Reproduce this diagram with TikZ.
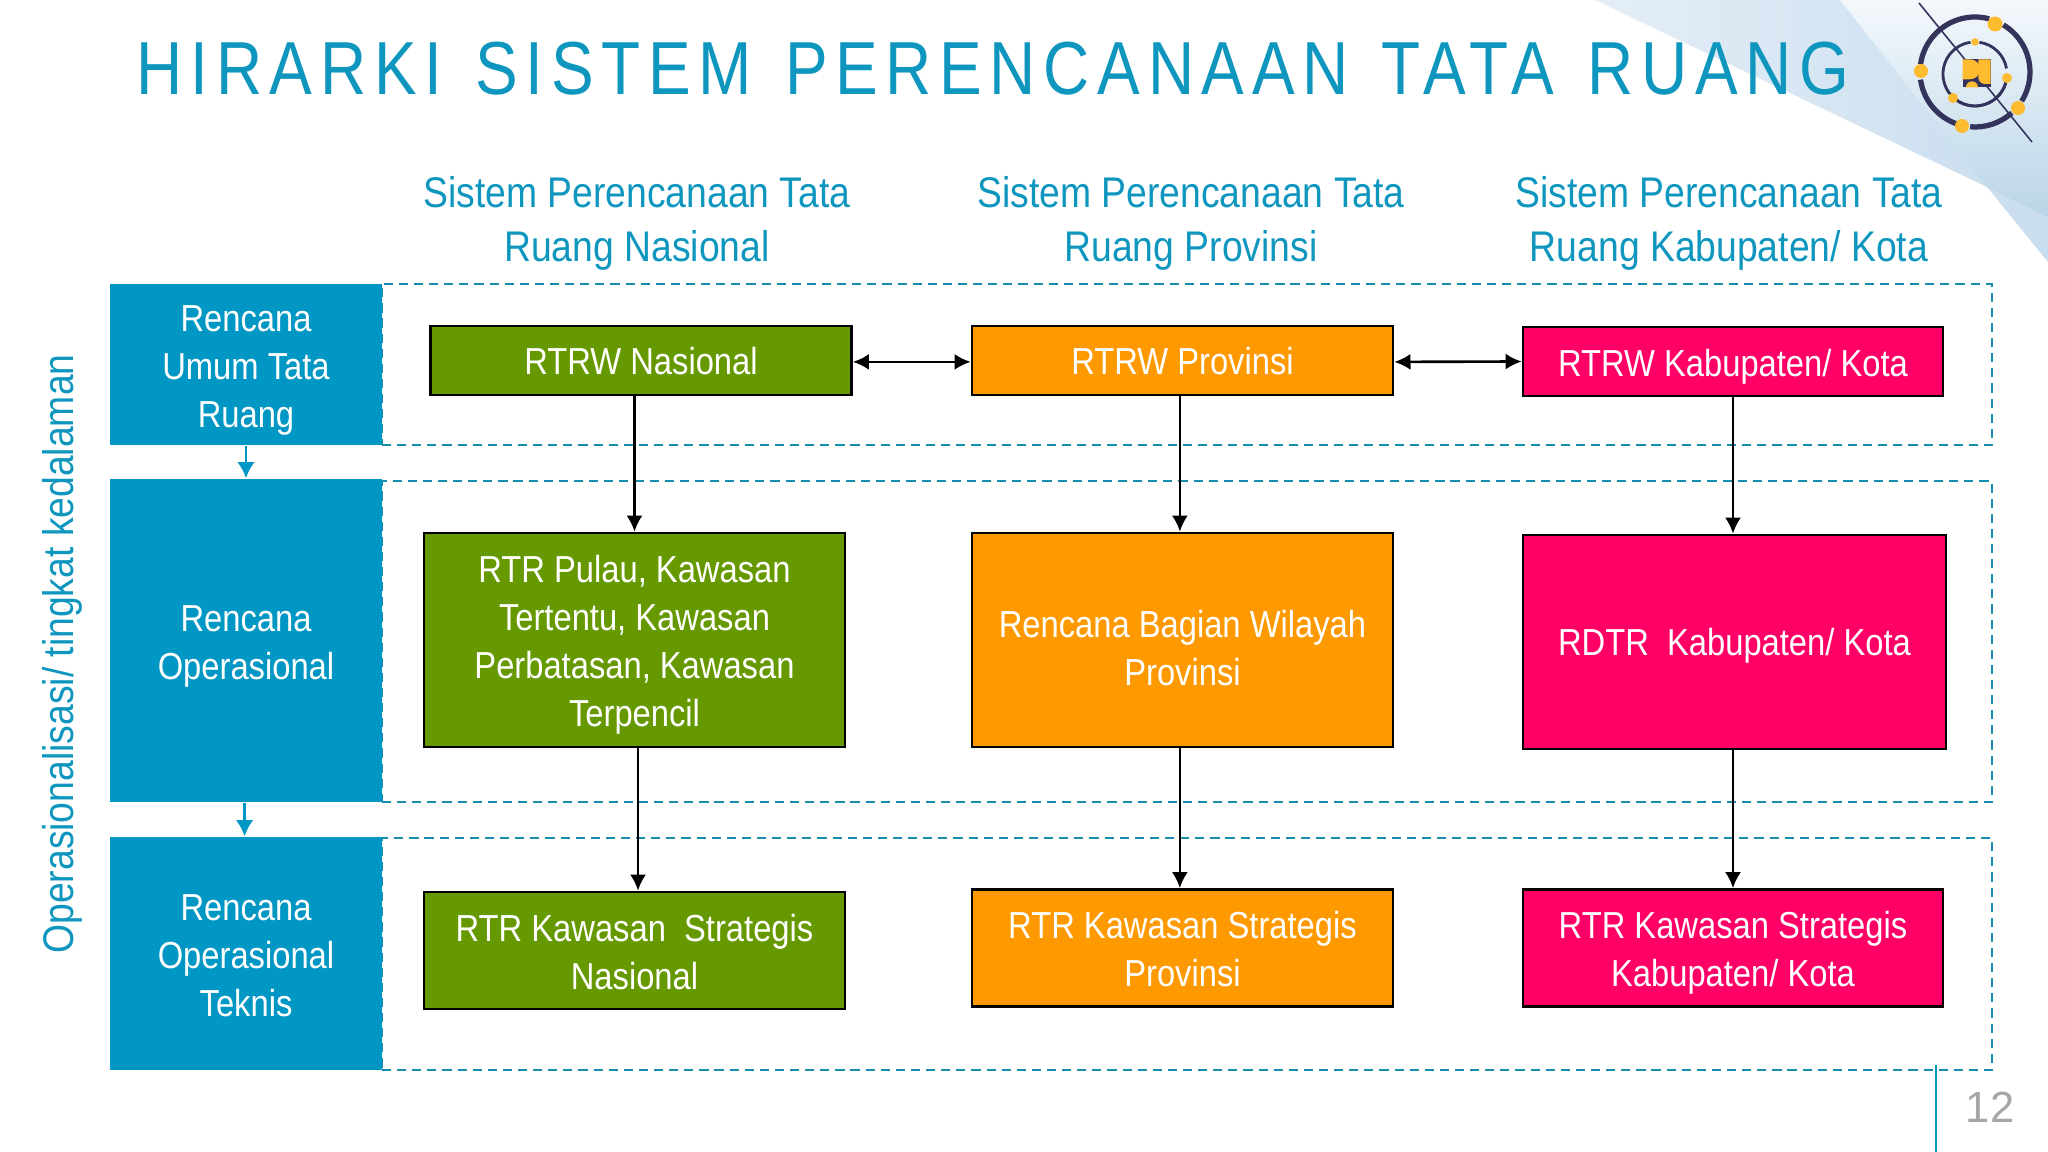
\documentclass[tikz,border=0pt]{standalone}
\usepackage{fontspec}
\setmainfont{Liberation Sans}
\newfontfamily\narrowfont[FakeStretch=0.87]{Liberation Sans}
\newfontfamily\titlefont[FakeStretch=0.85,LetterSpace=10.25,WordSpace=1.3]{Liberation Sans}
\usetikzlibrary{arrows.meta,shadings}
\definecolor{birupu}{HTML}{0097C4}
\definecolor{judul}{HTML}{0E96BE}
\definecolor{hijau}{HTML}{669900}
\definecolor{oranye}{HTML}{FF9900}
\definecolor{merah}{HTML}{FF0066}
\definecolor{navy}{HTML}{33335C}
\definecolor{kuning}{HTML}{FDBB30}
\definecolor{latarmuda}{HTML}{E4EEF7}
\definecolor{latartengah}{HTML}{C8DDEE}
\definecolor{latartua}{HTML}{BAD5E8}
\newcommand{\turun}[1]{\rule{0pt}{#1pt}}
\tikzset{
    kotak/.style={draw=black,line width=0.75pt,inner sep=0pt,align=center,text=white,
        font=\narrowfont\fontsize{10.7}{13.66}\selectfont},
    tingkat/.style={fill=birupu,inner sep=0pt,align=center,text=white,minimum width=2.72cm,
        font=\narrowfont\fontsize{10.7}{13.66}\selectfont},
    baris/.style={draw=birupu!85!black!90,line width=0.6pt,dash pattern=on 2.6pt off 1.7pt,
        inner sep=0pt,minimum width=16.10cm},
    kepala/.style={align=center,text=judul,font=\narrowfont\fontsize{12.2}{15.6}\selectfont},
    panah/.style={-{Latex[length=4.6pt,width=4.6pt]},line width=0.75pt,black},
    panahdua/.style={{Latex[length=4.6pt,width=4.6pt]}-{Latex[length=4.6pt,width=4.6pt]},line width=0.75pt,black},
    panahbiru/.style={-{Latex[length=4.6pt,width=5pt]},line width=0.8pt,birupu}
}
\begin{document}
\begin{tikzpicture}
    \useasboundingbox (0,0) rectangle (20.48,-11.52);
    % latar sudut kanan atas
    \shade[left color=latarmuda,right color=latartengah]
        (15.95,0) -- (19.87,-1.87) -- (20.48,-2.62) -- (20.48,0) -- cycle;
    \shade[top color=latarmuda!40,bottom color=latartua]
        (18.40,0) -- (19.87,-1.87) -- (20.48,-2.17) -- (20.48,0) -- cycle;

    \node[anchor=west,inner sep=0pt,text=judul,font=\titlefont\fontsize{21.4}{26}\selectfont] (judulutama) at (1.36,-0.69)
        {HIRARKI SISTEM PERENCANAAN TATA RUANG};

    % logo
    \draw[navy,line width=0.45pt] (19.19,-0.03) -- (20.32,-1.42);
    \foreach \a/\b in {75/172,188/252,-95/-48,-32/59}
        \draw[navy,line width=1.5pt] (19.75,-0.72) ++(\a:0.55) arc (\a:\b:0.55);
    \foreach \a/\b in {98/345,-125/-15,10/82}
        \draw[navy,line width=0.8pt] (19.75,-0.74) ++(\a:0.32) arc (\a:\b:0.32);
    \fill[kuning] (19.95,-0.24) circle (0.075) (19.21,-0.71) circle (0.07) (20.18,-1.08) circle (0.07) (19.62,-1.26) circle (0.07);
    \fill[kuning] (19.75,-0.42) circle (0.038) (20.07,-0.78) circle (0.05) (19.53,-0.98) circle (0.05);
    \fill[navy] (19.627,-0.593) rectangle (19.907,-0.873);
    \fill[kuning] (19.627,-0.593) -- (19.70,-0.593) arc (90:-90:0.10 and 0.10) -- (19.627,-0.793) -- cycle;
    \fill[kuning] (19.783,-0.593) -- (19.907,-0.593) -- (19.907,-0.84) -- (19.85,-0.84) arc (270:180:0.067) -- cycle;
    \fill[kuning] (19.66,-0.873) arc (180:0:0.06) -- cycle;

    % baris putus-putus
    \node[baris,minimum height=1.61cm] (baris1) at (11.87,-3.645) {};
    \node[baris,minimum height=3.21cm] (baris2) at (11.87,-6.415) {};
    \node[baris,minimum height=2.32cm] (baris3) at (11.87,-9.54) {};

    % tingkat rencana
    \node[tingkat,minimum height=1.61cm] (umum) at (2.46,-3.645) {\turun{11}Rencana\\Umum Tata\\Ruang};
    \node[tingkat,minimum height=3.23cm] (operasional) at (2.46,-6.405) {\turun{10.7}Rencana\\Operasional};
    \node[tingkat,minimum height=2.33cm] (teknis) at (2.46,-9.535) {\turun{8.5}Rencana\\Operasional\\Teknis};
    \draw[panahbiru] (umum) -- (operasional);
    \draw[panahbiru] ([xshift=-0.4pt]operasional.south) -- ([xshift=-0.4pt]teknis.north);

    \node[rotate=90,text=judul,font=\narrowfont\fontsize{12.2}{15.6}\selectfont] (kedalaman) at (0.62,-6.54)
        {Operasionalisasi/ tingkat kedalaman};

    % kepala kolom
    \node[kepala] (kepalanas) at (6.37,-2.235) {Sistem Perencanaan Tata\\Ruang Nasional};
    \node[kepala] (kepalaprov) at (11.91,-2.235) {Sistem Perencanaan Tata\\Ruang Provinsi};
    \node[kepala] (kepalakab) at (17.29,-2.235) {Sistem Perencanaan Tata\\Ruang Kabupaten/ Kota};

    % kolom nasional
    \node[kotak,fill=hijau,minimum width=4.21cm,minimum height=0.69cm] (rtrwnas) at (6.41,-3.605) {\turun{7.9}RTRW Nasional};
    \node[kotak,fill=hijau,minimum width=4.21cm,minimum height=2.14cm] (rtrpulau) at (6.345,-6.40)
        {\turun{10.7}RTR Pulau, Kawasan\\Tertentu, Kawasan\\Perbatasan, Kawasan\\Terpencil};
    \node[kotak,fill=hijau,minimum width=4.21cm,minimum height=1.17cm] (ksnas) at (6.345,-9.505)
        {\turun{8.4}RTR Kawasan\ \ Strategis\\Nasional};

    % kolom provinsi
    \node[kotak,fill=oranye,minimum width=4.21cm,minimum height=0.69cm] (rtrwprov) at (11.825,-3.605) {\turun{7.9}RTRW Provinsi};
    \node[kotak,fill=oranye,minimum width=4.21cm,minimum height=2.14cm] (rbwp) at (11.825,-6.40)
        {\turun{12.2}Rencana Bagian Wilayah\\Provinsi};
    \node[kotak,fill=oranye,minimum width=4.21cm,minimum height=1.17cm] (ksprov) at (11.825,-9.48)
        {\turun{8.4}RTR Kawasan Strategis\\Provinsi};

    % kolom kabupaten
    \node[kotak,fill=merah,minimum width=4.20cm,minimum height=0.69cm] (rtrwkab) at (17.33,-3.615) {\turun{10.7}RTRW Kabupaten/ Kota};
    \node[kotak,fill=merah,minimum width=4.23cm,minimum height=2.14cm] (rdtr) at (17.345,-6.42) {\turun{10}RDTR\ \ Kabupaten/ Kota};
    \node[kotak,fill=merah,minimum width=4.20cm,minimum height=1.17cm] (kskab) at (17.33,-9.48)
        {\turun{10.7}RTR Kawasan Strategis\\Kabupaten/ Kota};

    \draw[panahdua] ([yshift=-0.4pt]rtrwnas.east) -- ([yshift=-0.4pt]rtrwprov.west);
    \draw[panahdua] ([yshift=-0.4pt]rtrwprov.east) -- (rtrwkab.west);

    \draw[panah] (rtrwnas.south -| rtrpulau.north) -- (rtrpulau);
    \draw[panah] ([xshift=1pt]rtrpulau.south) -- ([xshift=1pt]ksnas.north);
    \draw[panah] ([xshift=-0.75pt]rtrwprov.south) -- ([xshift=-0.75pt]rbwp.north);
    \draw[panah] ([xshift=-0.75pt]rbwp.south) -- ([xshift=-0.75pt]ksprov.north);
    \draw[panah] (rtrwkab) -- (rdtr.north -| rtrwkab.south);
    \draw[panah] (rdtr.south -| kskab.north) -- (kskab);

    % nomor halaman
    \coordinate (garisatas) at (19.36,-10.65);
    \coordinate (garisbawah) at (19.36,-11.52);
    \draw[birupu,line width=0.7pt] (garisatas) -- (garisbawah);
    \node[text=black!35,font=\fontsize{12.4}{15}\selectfont] (halaman) at (19.90,-11.07) {12};
\end{tikzpicture}
\end{document}
